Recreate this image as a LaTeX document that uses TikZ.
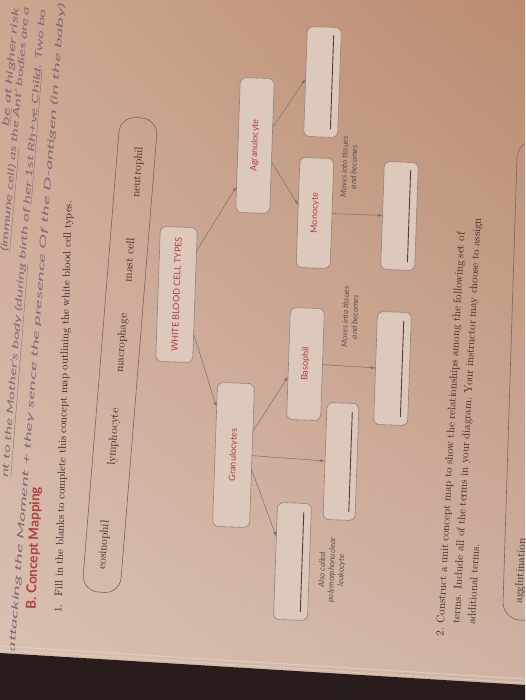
\documentclass[tikz,border=0pt]{standalone}
\usepackage{fontspec}
\setsansfont{Lato}
\usetikzlibrary{calc,shadings}

\definecolor{pagetl}{RGB}{204,166,144}
\definecolor{pagetr}{RGB}{186,140,112}
\definecolor{pagebl}{RGB}{218,194,180}
\definecolor{pagebr}{RGB}{208,180,164}
\definecolor{boxfill}{RGB}{221,200,188}
\definecolor{boxline}{RGB}{148,128,122}
\definecolor{bankline}{RGB}{120,100,96}
\definecolor{redlab}{RGB}{176,64,62}
\definecolor{ink}{RGB}{50,36,36}
\definecolor{labgray}{RGB}{92,80,80}
\definecolor{pencil}{RGB}{128,106,120}
\definecolor{blankink}{RGB}{86,60,60}
\definecolor{arrowgray}{RGB}{125,110,108}
\definecolor{floor}{RGB}{40,28,28}
\definecolor{paperedge}{RGB}{224,204,194}

\newcommand{\blankline}[1]{\raisebox{-10pt}[0pt][0pt]{\rule{#1}{0.9pt}}}
\newcommand{\hwtext}[2]{\resizebox{#1}{7pt}{#2}}

\tikzset{
  wbcbox/.style={draw=boxline, fill=boxfill, line width=0.6pt, rounded corners=6pt,
    rotate=88, minimum height=34pt, inner sep=0pt,
    font=\sffamily\fontsize{9}{10}\selectfont, text=redlab},
  blankbox/.style={wbcbox, text=blankink},
  arr/.style={draw=arrowgray, line width=0.5pt, arrows={-latex}},
  moves/.style={rotate=88, align=center, text=labgray,
    font=\sffamily\itshape\fontsize{8}{9.5}\selectfont},
  term/.style={rotate=86, text=ink, font=\fontsize{11.5}{13}\selectfont},
  hand/.style={anchor=west, inner sep=0pt, text=pencil,
    font=\sffamily\itshape\fontsize{10}{11}\selectfont}
}

\begin{document}
\begin{tikzpicture}[x=1pt,y=-1pt]
    \useasboundingbox (0,0) rectangle (525,700);
    \clip (0,0) rectangle (525,700);
    \shade [upper left=pagetl, upper right=pagetr, lower left=pagebl, lower right=pagebr] (0,0) rectangle (525,700);

    \node [hand, rotate=85] (hwz) at (6,126) {\hwtext{118pt}{\underline{be} at higher risk}};
    \node [hand, rotate=84.8] (hwa) at (5,252) {\hwtext{246pt}{\underline{(immune cell) as} the Ant' bodies are a}};
    \node [hand, rotate=85.4] (hwb) at (6,478) {\hwtext{470pt}{\underline{nt to the Mother's body (during} birth of \underline{her 1st Rh+ve Child}. Two bo}};
    \node [hand, rotate=85.6] (hwc) at (12,652) {\hwtext{650pt}{attacking the Moment + they sence the presence Of the D-antigen (in the baby)}};

    \node [rotate=88, text=redlab, font=\sffamily\bfseries\fontsize{13.5}{15}\selectfont] (head) at (34,548) {B. Concept Mapping};
    \node [rotate=88.6, anchor=west, text=ink, font=\fontsize{10.7}{12}\selectfont] (qone) at (59,616) {1.\hspace{8pt}Fill in the blanks to complete this concept map outlining the white blood cell types.};

    \node [draw=bankline, line width=0.6pt, rounded corners=16pt, rotate=85.4, minimum width=476pt, minimum height=38pt] (bank) at (120,355) {};
    \node [term] (eos) at (104,545) {eosinophil};
    \node [term] (lym) at (114,437) {lymphocyte};
    \node [term] (mac) at (122,343) {macrophage};
    \node [term] (mas) at (129,260) {mast cell};
    \node [term] (neu) at (138,172) {neutrophil};

    \node [wbcbox, minimum width=135pt, minimum height=37pt] (wbc) at (176.5,294.5) {WHITE BLOOD CELL TYPES};
    \node [wbcbox, minimum width=144pt, minimum height=37pt] (gran) at (233.5,455) {Granulocytes};
    \node [wbcbox, minimum width=135pt] (agran) at (255,145.5) {Agranulocyte};
    \node [blankbox, minimum width=110pt] (lymph) at (322.5,82) {\blankline{94pt}};
    \node [wbcbox, minimum width=110pt] (mono) at (315,213) {Monocyte};
    \node [blankbox, minimum width=108pt] (macro) at (399.5,216) {\blankline{92pt}};
    \node [wbcbox, minimum width=112pt] (baso) at (305.5,364) {Basophil};
    \node [blankbox, minimum width=113pt] (mast) at (392.5,368.5) {\blankline{96pt}};
    \node [blankbox, minimum width=117pt, minimum height=32pt] (eosin) at (341,461.5) {\blankline{100pt}};
    \node [blankbox, minimum width=117pt] (neutro) at (292.5,561.5) {\blankline{100pt}};

    \draw [arr] ($(wbc.south west)!.21!(wbc.south east)$) -- ($(gran.north west)!.83!(gran.north east)$);
    \draw [arr] ($(wbc.south west)!.83!(wbc.south east)$) -- ($(agran.north west)!.19!(agran.north east)$);
    \draw [arr] ($(agran.south west)!.64!(agran.south east)$) -- ($(lymph.north west)!.52!(lymph.north east)$);
    \draw [arr] ($(agran.south west)!.38!(agran.south east)$) -- ($(mono.north west)!.57!(mono.north east)$);
    \draw [arr] (mono.south) -- (macro.north);
    \draw [arr] ($(gran.south west)!.67!(gran.south east)$) -- ($(baso.north west)!.38!(baso.north east)$);
    \draw [arr] (gran.south) -- (eosin.north);
    \draw [arr] ($(gran.south west)!.4!(gran.south east)$) -- ($(neutro.north west)!.71!(neutro.north east)$);
    \draw [arr] (baso.south) -- (mast.north);

    \node [moves] (monolab) at (349,167) {Moves into tissues\\and becomes};
    \node [moves] (basolab) at (350,317) {Moves into tissues\\and becomes};
    \node [moves] (neutrolab) at (332,570) {Also called\\polymorphonuclear\\leukocyte};

    \node [rotate=87, anchor=north west, align=left, text=ink, font=\fontsize{11}{15.5}\selectfont] (qtwo) at (432,639) {\makebox[13pt][l]{2.}Construct a unit concept map to show the relationships among the following set of\\\hspace*{13pt}terms. Include all of the terms in your diagram. Your instructor may choose to assign\\\hspace*{13pt}additional terms.};

    \node [draw=bankline, line width=0.6pt, rounded corners=18pt, rotate=88.2, minimum width=480pt, minimum height=80pt] (qbank) at (550,381) {};
    \node [term, rotate=1, anchor=west] (agg) at (519,607) {agglutination};

    \fill [floor] (0,653) -- (525,685) -- (525,700) -- (0,700) -- cycle;
    \draw [paperedge, line width=1pt] (0,646) -- (525,679);
    \draw [paperedge, line width=0.8pt] (0,650) -- (525,683);
\end{tikzpicture}
\end{document}
